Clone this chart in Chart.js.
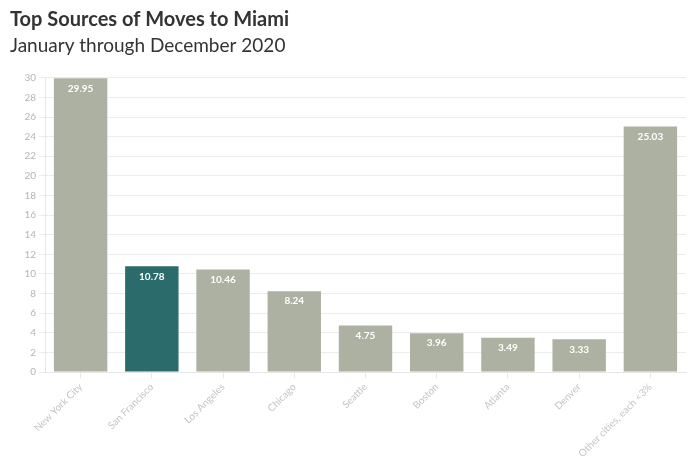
<!DOCTYPE html>
<html>
<head>
<meta charset="utf-8">
<script src="https://cdn.jsdelivr.net/npm/chart.js@4/dist/chart.umd.min.js"></script>
<style>
  html, body { margin: 0; padding: 0; background: #fff; }
  #wrap { width: 700px; height: 457px; }
</style>
</head>
<body>
<div id="wrap"><canvas id="chart"></canvas></div>
<script>
// ===== DATOS =====
const cities = ['New York City', 'San Francisco', 'Los Angeles', 'Chicago', 'Seattle', 'Boston', 'Atlanta', 'Denver', 'Other cities, each <3%'];
const moveShares = [29.95, 10.78, 10.46, 8.24, 4.75, 3.96, 3.49, 3.33, 25.03];
const highlightCity = 'San Francisco';

const barColors = cities.map(c => c === highlightCity ? '#2b6b6b' : '#adb1a1');

// etiquetas blancas arriba de cada barra
const valueLabels = {
    id: 'valueLabels',
    afterDatasetsDraw(chart) {
        const ctx = chart.ctx;
        const meta = chart.getDatasetMeta(0);
        ctx.save();
        ctx.fillStyle = '#fff';
        ctx.font = 'bold 10px Lato';
        ctx.textAlign = 'center';
        ctx.textBaseline = 'top';
        meta.data.forEach((bar, i) => {
            ctx.fillText(moveShares[i].toFixed(2), bar.x, bar.y + 5);
        });
        ctx.restore();
    }
};

new Chart(document.getElementById('chart').getContext('2d'), {
    type: 'bar',
    data: {
        labels: cities,
        datasets: [{ data: moveShares, backgroundColor: barColors, barPercentage: 0.75, categoryPercentage: 1 }]
    },
    options: {
        responsive: true,
        maintainAspectRatio: false,
        animation: false,
        layout: { padding: { left: 10, right: 14, top: 8, bottom: 0 } },
        plugins: {
            legend: { display: false },
            tooltip: { enabled: false },
            title: {
                display: true, text: 'Top Sources of Moves to Miami', align: 'start',
                color: '#333', font: { family: 'Lato', size: 20, weight: 'bold' },
                padding: { top: 0, bottom: 2 }
            },
            subtitle: {
                display: true, text: 'January through December 2020', align: 'start',
                color: '#333', font: { family: 'Lato', size: 19 },
                padding: { bottom: 21 }
            }
        },
        scales: {
            x: {
                afterFit: s => { s.height = 85; },
                grid: { display: true, drawOnChartArea: false, offset: false, tickLength: 6, color: '#e6e6e6' },
                border: { color: '#e6e6e6' },
                ticks: { color: '#c4c4c4', font: { family: 'Lato', size: 10 }, maxRotation: 45, minRotation: 45 }
            },
            y: {
                min: 0, max: 30,
                afterFit: s => { s.width = 35; },
                grid: { color: '#ececec', tickLength: 6 },
                border: { color: '#e6e6e6' },
                ticks: { stepSize: 2, color: '#b5b5b5', font: { family: 'Lato', size: 10 } }
            }
        }
    },
    plugins: [valueLabels]
});
</script>
</body>
</html>
